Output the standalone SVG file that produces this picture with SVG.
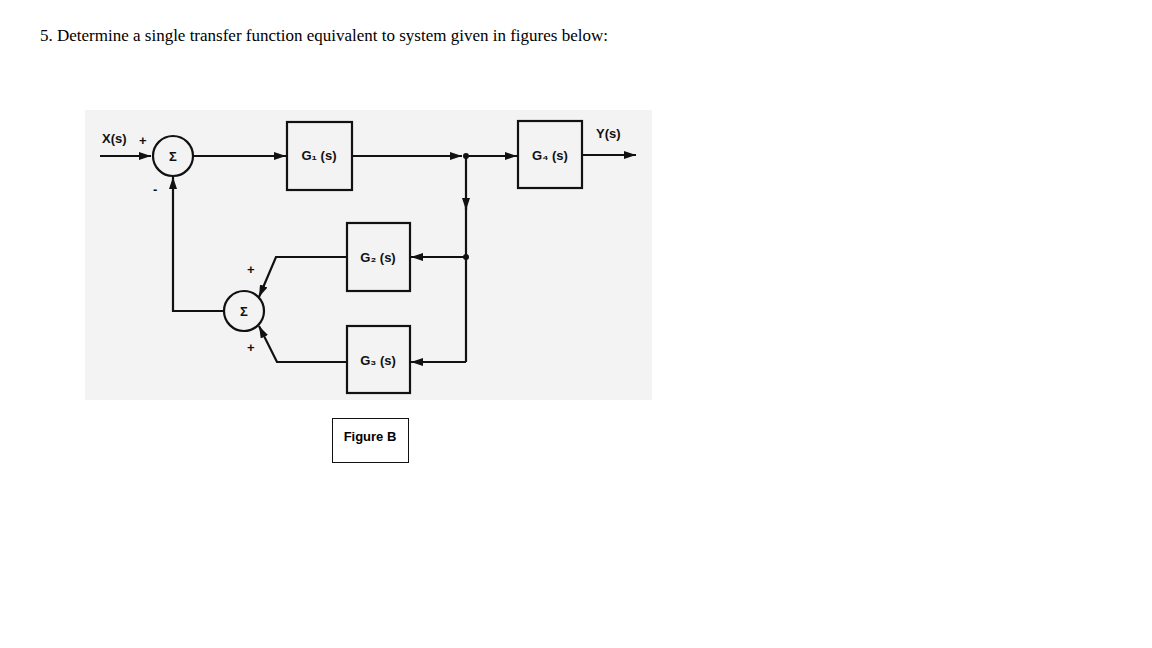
<svg xmlns="http://www.w3.org/2000/svg" width="1152" height="648" viewBox="0 0 1152 648">
<style>
.l{fill:none;stroke:#111;stroke-width:2.2}
.b{fill:none;stroke:#111;stroke-width:2.2}
.t{font-family:"Liberation Sans",Arial,sans-serif;font-weight:bold;font-size:13px;fill:#111}
</style>
<defs><marker id="a" markerWidth="12" markerHeight="8" refX="12" refY="4" orient="auto" markerUnits="userSpaceOnUse"><path d="M0,0L12,4L0,8z" fill="#111"/></marker></defs>
<rect width="1152" height="648" fill="#fff"/>
<text x="40" y="41" font-family="Liberation Serif,serif" font-size="17">5.  Determine a single transfer function equivalent to system given in figures below:</text>
<rect x="85" y="110" width="567" height="290" fill="#f3f3f3"/>
<g id="connectors">
<path class="l" d="M100,156H151" marker-end="url(#a)"/>
<path class="l" d="M194,156H286" marker-end="url(#a)"/>
<path class="l" d="M352,156H462" marker-end="url(#a)"/>
<path class="l" d="M466,156H517" marker-end="url(#a)"/>
<path class="l" d="M582,155H636" marker-end="url(#a)"/>
<path class="l" d="M466,156V210" marker-end="url(#a)"/>
<path class="l" d="M466,205V362"/>
<path class="l" d="M466,257H411" marker-end="url(#a)"/>
<path class="l" d="M466,362H411" marker-end="url(#a)"/>
<path class="l" d="M347,257H276L259,297" marker-end="url(#a)"/>
<path class="l" d="M347,362H277L259,326" marker-end="url(#a)"/>
<path class="l" d="M224,311H173V177" marker-end="url(#a)"/>
<circle cx="466" cy="156" r="3" fill="#111"/>
<circle cx="466" cy="257" r="3" fill="#111"/>
</g>
<g id="sum1"><circle class="b" cx="173" cy="156" r="20" fill="#fff"/><text class="t" x="173" y="161" text-anchor="middle">Σ</text></g>
<g id="sum2"><circle class="b" cx="244" cy="311" r="20" fill="#fff"/><text class="t" x="244" y="316" text-anchor="middle">Σ</text></g>
<g id="g1"><rect class="b" x="287" y="122" width="65" height="68" fill="#fff"/><text class="t" x="319" y="160" text-anchor="middle">G₁ (s)</text></g>
<g id="g4"><rect class="b" x="518" y="121" width="64" height="67" fill="#fff"/><text class="t" x="550" y="160" text-anchor="middle">G₄ (s)</text></g>
<g id="g2"><rect class="b" x="347" y="223" width="63" height="68" fill="#fff"/><text class="t" x="378" y="262" text-anchor="middle">G₂ (s)</text></g>
<g id="g3"><rect class="b" x="347" y="326" width="63" height="67" fill="#fff"/><text class="t" x="378" y="365" text-anchor="middle">G₃ (s)</text></g>
<text class="t" x="102" y="143">X(s)</text><text class="t" x="139" y="145">+</text>
<text class="t" x="153" y="194">-</text>
<text class="t" x="596" y="138">Y(s)</text>
<text class="t" x="247" y="274">+</text><text class="t" x="247" y="352">+</text>
<g id="figB"><rect x="332.5" y="418.5" width="76" height="44" fill="#fff" stroke="#111"/><text x="370" y="441" text-anchor="middle" font-family="Liberation Sans,sans-serif" font-weight="bold" font-size="13">Figure B</text></g>
</svg>
